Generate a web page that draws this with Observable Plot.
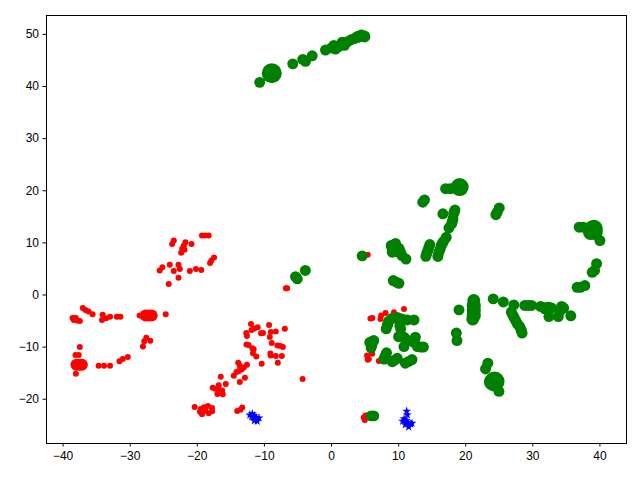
<!DOCTYPE html>
<html>
<head>
<meta charset="utf-8">
<script src="https://cdn.jsdelivr.net/npm/d3@7"></script>
<script src="https://cdn.jsdelivr.net/npm/@observablehq/plot@0.6"></script>
<style>html,body{margin:0;padding:0;background:#fff;overflow:hidden}</style>
</head>
<body>
<div id="chart"></div>
<script>
const xTicks = [-40,-30,-20,-10,0,10,20,30,40];
const yTicks = [-20,-10,0,10,20,30,40,50];

const redX = [-38.4,-38.15,-37.5,-38.6,-38.1,-37.9,-38.4,-37.06,-36.66,-36.2,-35.6,-34.1,-34.2,-33.6,-33,-32,-31.45,-28.6,-24.7,-27.6,-27,-27.9,-28.1,-37.5,-38.15,-37.66,-38.4,-38.1,-34.7,-33.9,-33,-31.6,-31.1,-30.35,
-23.5,-23.75,-21.76,-22,-20.86,-22.25,-22.4,-21.9,-19.3,-18.8,-18.3,-17.5,-17.9,-18.1,-25.2,-25.6,-24.1,-23.5,-22.8,-22.6,-22.8,-24.25,-21.1,-20.2,-19.4,
-12,-9.3,-6.95,-11,-11.9,-11.5,-12.7,-12.6,-10.5,-10.2,-9.05,-8.3,-9.2,-8.9,-8.05,-7.6,-7.25,-12.67,-12.37,-11.8,-11.6,-11.7,-11.2,-9.1,-9.05,-8.3,-7.4,-10.4,-8,-13.9,-13.66,-12.6,-13.07,-13.4,-13.8,-14.16,-14.56,-16.5,-15.75,-16.8,-12.9,-13.66,-4.3,-17.7,-17.3,-16.8,-16.3,-17,-16.2,
-20.4,-19.5,-19,-18.4,-17.8,-19.6,-19.3,-18.8,-18.3,-17.8,-14.05,-13.57,-13.3,
10.8,9.3,8.05,7.4,7.3,5.8,6.1,5.3,5.56,6.07,5.4,7.05,8.05,4.8,5.07,4.96,5.4,-6.8,-6.6];
const redY = [-4.47,-4.72,-4.97,-4.4,-4.4,-4.9,-4.8,-2.48,-2.87,-3.19,-3.7,-3.8,-4.8,-4.47,-4.2,-4.2,-4.2,-3.95,-3.7,-8.2,-8.8,-8.9,-9.9,-10,-11.5,-11.5,-13.4,-15.1,-13.6,-13.6,-13.6,-12.7,-12.3,-11.9,
10.44,9.8,10.1,9.5,9.8,8.85,8.1,8.66,11.4,11.4,11.4,7.2,6.6,6.15,5.3,4.7,5.8,4.6,5.8,5,3.3,2.1,4.6,5,4.8,
-5.55,-5.75,-6.5,-6.2,-6.7,-6.45,-7.3,-7.85,-7.35,-7.3,-7.1,-7,-8.05,-9.2,-9.7,-9.8,-10,-9.5,-9.6,-10.2,-10.4,-11.2,-11.8,-11.25,-11.6,-11.7,-11.7,-13.2,-13,-13,-13.6,-13.4,-13.9,-14.3,-14.6,-14.8,-15.5,-15.7,-17.1,-17.3,-15.9,-16.7,-16.1,-17.8,-18,-18.2,-18.35,-19,-19.05,
-21.5,-21.9,-21.55,-21.3,-21.7,-22.4,-22.9,-22.2,-22.7,-22.3,-22.25,-22,-21.6,
-2.67,-3.3,-3.45,-3.95,-4.6,-4.5,-4.4,-11.6,-12.3,-11.3,-12.45,-12.65,-12.7,-23.5,-23.15,-24,7.7,1.3,1.3];
const redBigX = [-27.7,-27.25,-26.8,-38,-37.6,-37.2];
const redBigY = [-3.95,-3.95,-3.95,-13.4,-13.4,-13.4];
const redBigSize = [36,36,36,36,36,36];

const blueX = [-12.17,-11.8,-11.5,-11.67,-11.2,-10.8,-11.5,-11.07,-11.3,-11.9,-11.4,11.2,10.8,11.3,11.8,11,11.5,10.6,12,11.3,11.1,11.4];
const blueY = [-23,-22.8,-23.15,-23.5,-23.6,-23.6,-24.1,-24.2,-23.8,-23.3,-23.5,-22.3,-23.8,-24.4,-24.75,-24.9,-25.3,-24.2,-24.6,-23,-24.1,-24.6];

const greenX = [-10.7,-5.77,-4.28,-3.87,-2.88,-0.9,0.35,0.6,1.6,1.94,2.94,3.83,4.43,4.9,0,1,2.4,3.4,
4.57,8.9,9.54,10.05,10.5,11.1,9.05,9.2,10.05,9.6,13.6,13.86,16.6,17,17.7,18.4,18.2,18.1,17.9,17.5,17.1,16.7,16.35,16,15.85,14.65,14.35,14.06,25,24.7,24.5,18.3,18,16.5,16.2,14.5,14.2,
36.9,37.5,40,39.5,38.85,39.2,36.6,37.1,37.75,24.1,25.6,27.17,26.8,27.2,27.7,28.2,28.4,28.8,29.3,29.8,31.15,31.8,32.4,32.8,32.4,34.3,34.6,34.1,33.8,35.66,19,18.6,18.7,23.3,22.95,24.95,27,27.45,28,28.3,32,
8.5,8.3,8.15,9.8,10.5,11.3,12.3,10.2,10.3,10,10.8,12.5,12.3,10.8,11.3,12.8,13.7,6.3,5.7,5.9,8.2,7.8,9.8,9.05,12,11,11.5,6.3,5.9,-5.36,-5.1,-3.9,8.4,9,10.2,10.4,11,12.4,13.3,8,9.4,6,6];
const greenY = [40.8,44.35,45.2,44.85,45.9,47,47.9,47.2,48.5,47.9,49,49.5,49.8,49.6,47.4,47.6,48.6,49.2,
7.5,9.5,9.9,8.5,7.56,6.9,8.2,2.76,2.25,2.5,17.8,18.25,15.57,20.4,20.4,16.3,15.6,14.6,13.65,12.9,11.07,10.3,9.5,8.2,7.4,9.67,8.5,7.43,16.7,15.9,15.4,16,14.1,9.9,8.8,9.1,8,
13,13,10.44,6,4.36,4.7,1.48,1.48,1.8,-0.75,-1.33,-1.9,-3.3,-4.3,-5.55,-6.5,-7.3,-2,-2,-2,-2.2,-2.67,-2.36,-2.5,-4.15,-2.2,-2.5,-3,-4.15,-4,-2.86,-7.3,-8.75,-13.1,-14.2,-18.5,-3.8,-4.9,-6,-6.9,-2.4,
-5.05,-5.9,-6.5,-4.3,-4.6,-4.8,-4.8,-5.9,-6.5,-8,-8.1,-8.1,-9.1,-9.9,-8.75,-9.9,-10,-8.75,-9.1,-10.15,-11.1,-12.3,-12.15,-12.8,-12.4,-13.1,-12.75,-23.2,-23.2,3.5,3.1,4.7,-5.5,-4.5,-5.4,-7.8,-8.4,-8.6,-10,-11.7,-12.5,-9.6,-8.9];
const greenBigX = [-8.9,19.1,9.3,9.8,10.2,39.1,38.6,39.3,38.8,21.2,21.2,21.2,21.2,21.05,24.3,23.9,3.9,4.43,4.9];
const greenBigY = [42.55,20.7,9.15,8.7,8.2,12.7,12,12,12.5,-1.07,-2,-3,-3.95,-4.6,-16.6,-16.7,49.5,49.8,49.6];
const greenBigSize = [100,81,56,56,36,81,56,56,81,42,50,50,50,42,100,64,36,36,36];

const rows = (xs, ys, size) => xs.map((x, i) => ({x, y: ys[i], s: Array.isArray(size) ? size[i] : size}));
const common = {x: "x", y: "y", r: "s", stroke: null};

const plot = Plot.plot({
  width: 640, height: 480,
  marginLeft: 46, marginRight: 14, marginTop: 15, marginBottom: 37,
  style: {background: "#fff", fontFamily: "'Liberation Sans', Arial, sans-serif", fontSize: "12px", color: "#000"},
  x: {domain: [-42.47, 43.96], ticks: xTicks, label: null, tickSize: 3.5, tickPadding: 4},
  y: {domain: [-28.5, 53.63], ticks: yTicks, label: null, tickSize: 3.5, tickPadding: 4},
  r: {type: "sqrt", domain: [0, 100], range: [0, 10]},
  marks: [
    Plot.dot(rows(redX, redY, 9), {...common, fill: "#ff0000"}),
    Plot.dot(rows(redBigX, redBigY, redBigSize), {...common, fill: "#ff0000"}),
    Plot.dot(rows(blueX, blueY, 8), {...common, fill: "#0000ff", symbol: "star"}),
    Plot.dot(rows(greenX, greenY, 30), {...common, fill: "#008000"}),
    Plot.dot(rows(greenBigX, greenBigY, greenBigSize), {...common, fill: "#008000"}),
    Plot.frame({stroke: "#000", strokeWidth: 1})
  ]
});
document.getElementById("chart").appendChild(plot);
</script>
</body>
</html>
